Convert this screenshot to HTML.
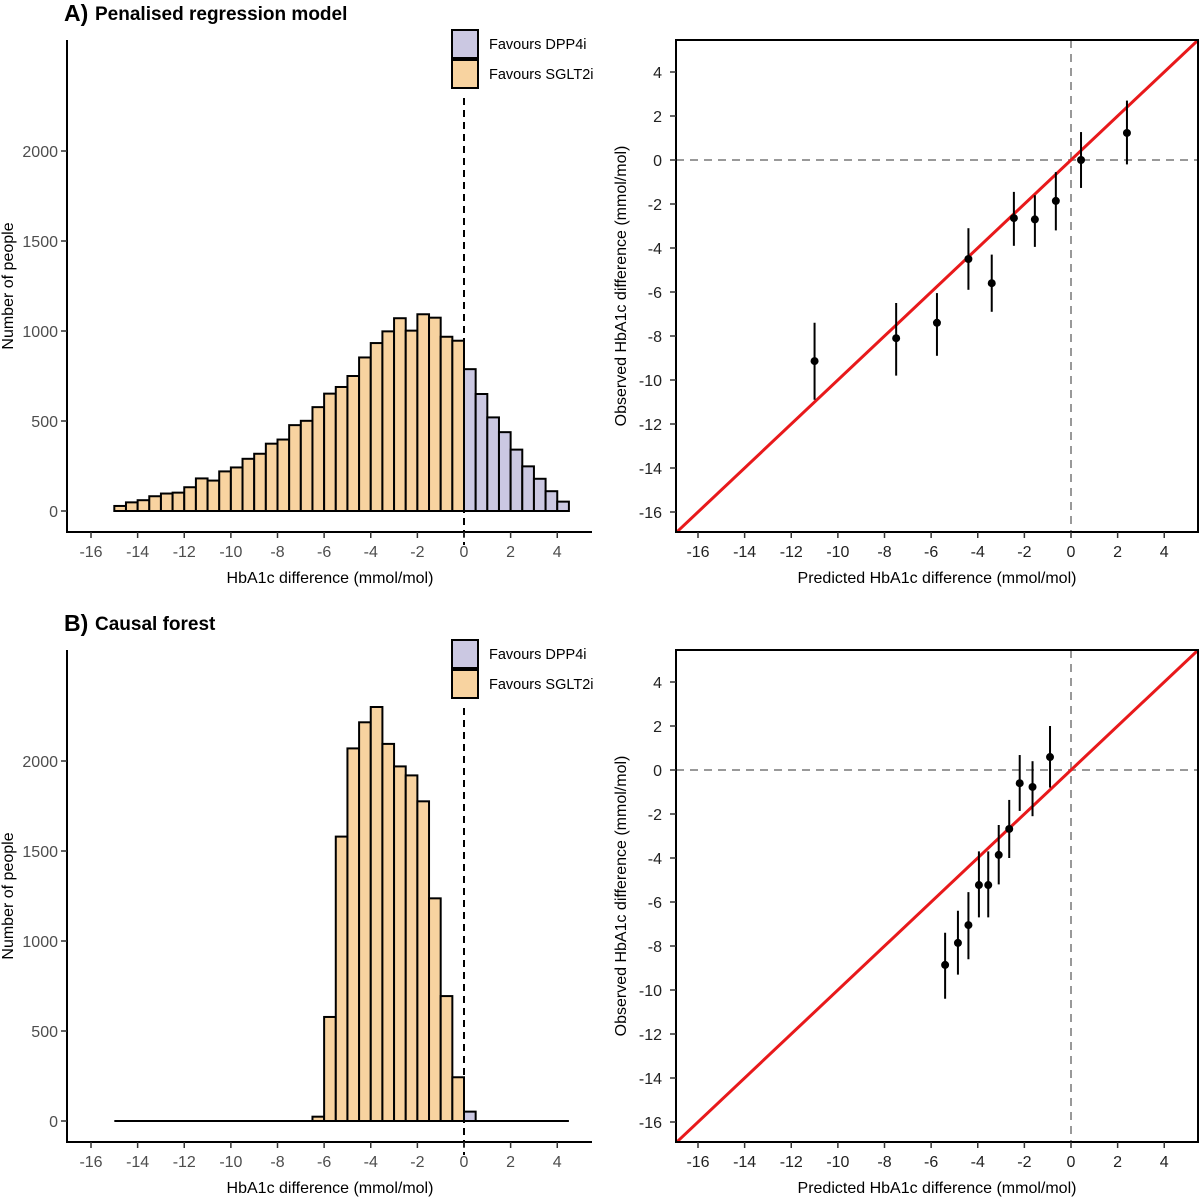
<!DOCTYPE html>
<html><head><meta charset="utf-8"><style>
html,body{margin:0;padding:0;background:#fff}
svg{display:block;font-family:"Liberation Sans",Arial,sans-serif}
</style></head><body>
<svg id="fig" width="1200" height="1197" viewBox="0 0 1200 1197"></svg>
<script>
// Panel A histogram (bins of 0.5 starting at -15)
const histA_start = -15;
const histA_counts = [28,48,60,82,97,102,132,181,169,220,242,290,318,374,397,477,501,577,652,689,750,853,933,998,1071,1002,1093,1074,968,946,788,650,520,438,341,248,179,110,52];
// Panel B histogram (bins of 0.5 starting at -6.5)
const histB_start = -6.5;
const histB_counts = [24,578,1580,2070,2215,2300,2095,1970,1920,1776,1237,694,243,52];
const histB_rangeMin = -15, histB_rangeMax = 4.5;
const histYTicks = [0,500,1000,1500,2000];
const xTicks = [-16,-14,-12,-10,-8,-6,-4,-2,0,2,4];
const yTicksScatter = [4,2,0,-2,-4,-6,-8,-10,-12,-14,-16];
// Panel A calibration
const calA_pred = [-11.0,-7.5,-5.75,-4.4,-3.4,-2.45,-1.55,-0.65,0.43,2.4];
const calA_obs  = [-9.14,-8.1,-7.4,-4.5,-5.6,-2.64,-2.7,-1.86,0,1.23];
const calA_lo   = [-10.9,-9.8,-8.9,-5.9,-6.9,-3.9,-3.95,-3.2,-1.27,-0.2];
const calA_hi   = [-7.4,-6.5,-6.05,-3.1,-4.3,-1.45,-1.6,-0.55,1.27,2.7];
// Panel B calibration
const calB_pred = [-5.4,-4.85,-4.4,-3.95,-3.55,-3.1,-2.65,-2.2,-1.65,-0.9];
const calB_obs  = [-8.86,-7.86,-7.05,-5.23,-5.23,-3.86,-2.68,-0.6,-0.77,0.59];
const calB_lo   = [-10.4,-9.3,-8.6,-6.7,-6.7,-5.2,-4.0,-1.86,-2.1,-0.8];
const calB_hi   = [-7.4,-6.4,-5.55,-3.7,-3.7,-2.5,-1.36,0.68,0.4,2.0];

const NS="http://www.w3.org/2000/svg";
const svg=document.getElementById('fig');
function el(tag,attrs,parent,text){const e=document.createElementNS(NS,tag);for(const k in attrs)e.setAttribute(k,attrs[k]);if(text!==undefined)e.textContent=text;(parent||svg).appendChild(e);return e;}
const ORANGE="#f8d3a0", PURPLE="#cbc8e2", TICKCOL="#4d4d4d";

function histPanel(dy,start,counts,title,letter,flatLine){
  const g=el('g',{});
  
  
  const xs=v=>464+v*23.3125;
  const ys=c=>dy+511-c*0.18;
  const t1=el('text',{x:64,y:dy+21,'font-size':23,'font-weight':'bold',fill:'#000'},g,letter+')');
  
  
  const t2=el('text',{x:95,y:dy+20,'font-size':19,'font-weight':'bold',fill:'#000'},g,title);
  
  
  if(flatLine){
    const fl=el('line',{x1:xs(histB_rangeMin),x2:xs(histB_rangeMax),y1:ys(0),y2:ys(0),stroke:'#000','stroke-width':2},g);
    
    
  }
  counts.forEach((c,i)=>{
    const x0=start+i*0.5;
    const r=el('rect',{x:xs(x0),y:ys(c),width:xs(x0+0.5)-xs(x0),height:ys(0)-ys(c),fill:x0>=0?PURPLE:ORANGE,stroke:'#000','stroke-width':2},g);
    
    
  });
  const vl=el('line',{x1:xs(0),x2:xs(0),y1:dy+98,y2:dy+545,stroke:'#000','stroke-width':2,'stroke-dasharray':'7,5'},g);
  
  
  const ax=el('path',{d:`M67,${dy+40} V${dy+532} H592`,fill:'none',stroke:'#000','stroke-width':2},g);
  
  
  histYTicks.forEach(v=>{
    el('line',{x1:61,x2:67,y1:ys(v),y2:ys(v),stroke:'#333','stroke-width':1.5},g);
    const tl=el('text',{x:58,y:ys(v)+6,'font-size':16,fill:TICKCOL,'text-anchor':'end'},g,v);
    
    
  });
  xTicks.forEach(v=>{
    el('line',{x1:xs(v),x2:xs(v),y1:dy+532,y2:dy+538,stroke:'#333','stroke-width':1.5},g);
    const tl=el('text',{x:xs(v),y:dy+557,'font-size':16,fill:TICKCOL,'text-anchor':'middle'},g,v);
    
    
  });
  const xl=el('text',{x:330,y:dy+583,'font-size':16,fill:'#000','text-anchor':'middle'},g,'HbA1c difference (mmol/mol)');
  
  
  const yl=el('text',{x:0,y:0,'font-size':16,fill:'#000','text-anchor':'middle',transform:`translate(13,${dy+286}) rotate(-90)`},g,'Number of people');
  
  
  [['Favours DPP4i',PURPLE,30],['Favours SGLT2i',ORANGE,60]].forEach(([lab,col,y])=>{
    const lg=el('g',{},g);
    
    
    el('rect',{x:452,y:dy+y,width:26,height:28,fill:col,stroke:'#000','stroke-width':2},lg);
    el('text',{x:489,y:dy+y+19,'font-size':14.5,fill:'#000'},lg,lab);
  });
}

function calPanel(dy,pred,obs,lo,hi,letter){
  const g=el('g',{});
  
  
  const xs=v=>1071+v*23.3125;
  const ys=v=>dy+160-v*22;
  const cid='clip'+letter;
  const cp=el('clipPath',{id:cid},g);
  el('rect',{x:676,y:dy+40,width:522,height:492},cp);
  const h=el('line',{x1:676,x2:1198,y1:ys(0),y2:ys(0),stroke:'#999','stroke-width':2,'stroke-dasharray':'8,6'},g);
  
  
  const v=el('line',{x1:xs(0),x2:xs(0),y1:dy+40,y2:dy+532,stroke:'#999','stroke-width':2,'stroke-dasharray':'8,6'},g);
  
  
  const id=el('line',{x1:xs(-18),y1:ys(-18),x2:xs(6),y2:ys(6),stroke:'#e8191b','stroke-width':3,'clip-path':`url(#${cid})`},g);
  
  
  pred.forEach((p,i)=>{
    const eb=el('line',{x1:xs(p),x2:xs(p),y1:ys(lo[i]),y2:ys(hi[i]),stroke:'#000','stroke-width':2},g);
    
    
    const pt=el('circle',{cx:xs(p),cy:ys(obs[i]),r:4,fill:'#000'},g);
    
    
  });
  const box=el('rect',{x:676,y:dy+40,width:522,height:492,fill:'none',stroke:'#000','stroke-width':2},g);
  
  
  yTicksScatter.forEach(t=>{
    el('line',{x1:670,x2:676,y1:ys(t),y2:ys(t),stroke:'#333','stroke-width':1.5},g);
    const tl=el('text',{x:662,y:ys(t)+6,'font-size':16,fill:'#222','text-anchor':'end'},g,t);
    
    
  });
  xTicks.forEach(t=>{
    el('line',{x1:xs(t),x2:xs(t),y1:dy+532,y2:dy+538,stroke:'#333','stroke-width':1.5},g);
    const tl=el('text',{x:xs(t),y:dy+557,'font-size':16,fill:'#222','text-anchor':'middle'},g,t);
    
    
  });
  const xl=el('text',{x:937,y:dy+583,'font-size':16,fill:'#000','text-anchor':'middle'},g,'Predicted HbA1c difference (mmol/mol)');
  
  
  const yl=el('text',{x:0,y:0,'font-size':16,fill:'#000','text-anchor':'middle',transform:`translate(626,${dy+286}) rotate(-90)`},g,'Observed HbA1c difference (mmol/mol)');
  
  
}

histPanel(0,histA_start,histA_counts,'Penalised regression model','A',false);
histPanel(610,histB_start,histB_counts,'Causal forest','B',true);
calPanel(0,calA_pred,calA_obs,calA_lo,calA_hi,'A');
calPanel(610,calB_pred,calB_obs,calB_lo,calB_hi,'B');
</script>
</body></html>
